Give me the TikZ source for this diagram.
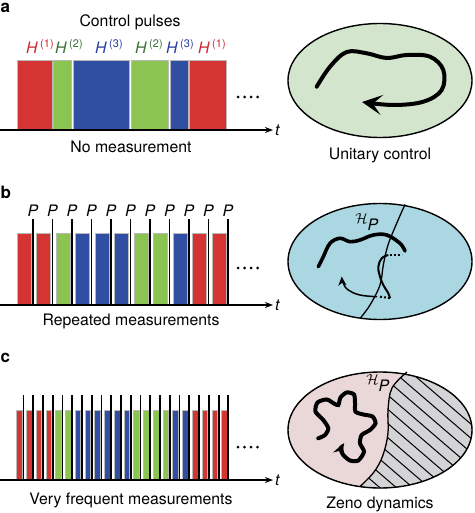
\documentclass[tikz,border=0pt]{standalone}
\usepackage{fontspec}
\setmainfont{TeX Gyre Heros}
\usepackage{xcolor}
\usetikzlibrary{arrows.meta}

\definecolor{pred}{RGB}{212,52,50}
\definecolor{pgreen}{RGB}{140,196,82}
\definecolor{pblue}{RGB}{48,78,162}
\definecolor{hred}{RGB}{205,38,48}
\definecolor{hgreen}{RGB}{58,112,52}
\definecolor{hblue}{RGB}{40,62,160}
\definecolor{fillA}{RGB}{212,229,206}
\definecolor{fillB}{RGB}{170,215,226}
\definecolor{fillC}{RGB}{234,215,216}
\definecolor{fillZ}{RGB}{212,212,214}

\newcommand{\hop}[2]{{\itshape H}\,\raisebox{6pt}{\fontsize{11}{12}\selectfont(#2)}}

\begin{document}
\begin{tikzpicture}[x=1pt, y=-1pt, font=\fontsize{15.8}{18}\selectfont, >={Stealth[length=8pt, width=6pt]},
  bar/.style={draw=gray!55, line width=0.8pt},
  meas/.style={line width=1.8pt, black},
  axis/.style={line width=1.4pt, ->},
  lbl/.style={font=\fontsize{17}{20}\selectfont\bfseries, anchor=base west, inner sep=0pt},
  captxt/.style={anchor=base, inner sep=0pt},
  hlab/.style={anchor=base west, inner sep=0pt},
  hilb/.style={draw=black, line width=1.4pt},
  traj/.style={line width=4pt, line cap=round},
  wall/.style={line width=1.3pt},
  dotseg/.style={line width=2pt, dash pattern=on 2pt off 2pt}]
\useasboundingbox (0,0) rectangle (474,513);

% panel labels
\node[lbl] (la) at (0.5,13) {a};
\node[lbl] (lb) at (0.5,198) {b};
\node[lbl] (lc) at (0.5,362) {c};

% ---- a: control pulses, no measurement
\node[captxt] (ctitle) at (130,26.5) {Control pulses};
\foreach \xa/\xb/\col in {17/52/pred, 53/71/pgreen, 73/129/pblue, 131/168/pgreen, 170/188/pblue, 189/226/pred}
  \draw[bar, fill=\col] (\xa,60) rectangle (\xb,130);
\node[hlab, text=hred] (h1) at (26,54) {\hop{H}{1}};
\node[hlab, text=hgreen] (h2) at (55,54) {\hop{H}{2}};
\node[hlab, text=hblue] (h3) at (95,54) {\hop{H}{3}};
\node[hlab, text=hgreen] (h4) at (135,54) {\hop{H}{2}};
\node[hlab, text=hblue] (h5) at (166,54) {\hop{H}{3}};
\node[hlab, text=hred] (h6) at (198,54) {\hop{H}{1}};
\coordinate (a0) at (0,130);
\coordinate (a1) at (273,130);
\draw[axis] (a0) -- (a1);
\node[anchor=west, inner sep=2pt] (ta) at (a1) {\itshape t};
\node[captxt] (capa) at (131,153) {No measurement};

% ---- b: repeated measurements
\foreach \col [count=\i from 0] in {pred,pred,pgreen,pblue,pblue,pblue,pgreen,pgreen,pblue,pred,pred} {
  \draw[bar, fill=\col] ({17+19.5*\i},233) rectangle ++(14,72);
  \draw[meas] ({33+19.5*\i},305) -- ++(0,-86) node[above, inner sep=1.5pt] (p\i) {\itshape P};
}
\coordinate (b0) at (0,305);
\coordinate (b1) at (273,305);
\draw[axis] (b0) -- (b1);
\node[anchor=west, inner sep=2pt] (tb) at (b1) {\itshape t};
\node[captxt] (capb) at (131,325) {Repeated measurements};

% ---- c: very frequent measurements
\foreach \col [count=\i from 0] in {pred,pred,pred,pred,pgreen,pgreen,pblue,pblue,pblue,pblue,pblue,pblue,pgreen,pgreen,pgreen,pgreen,pblue,pblue,pred,pred,pred,pred} {
  \draw[bar, fill=\col] ({16.7+9.76*\i},410) rectangle ++(5.6,70);
  \draw[meas] ({23.4+9.76*\i},480) -- ++(0,-85);
}
\coordinate (c0) at (0,480);
\coordinate (c1) at (273,480);
\draw[axis] (c0) -- (c1);
\node[anchor=west, inner sep=2pt] (tc) at (c1) {\itshape t};
\node[captxt] (capc) at (131,504) {Very frequent measurements};

% continuation dots
\foreach \yy in {97,268,447}
  \foreach \xx in {238,244.5,251,257.5}
    \fill (\xx,\yy) circle (1.5);

% ---- Hilbert space pictures
% a: unitary control
\draw[hilb, fill=fillA] (380,80.5) ellipse [x radius=92, y radius=57];
\draw[traj, -{Stealth[length=20pt, width=20pt, inset=9pt]}] plot[smooth, tension=0.6] coordinates {(316.7,86.7) (330,66.7) (346.7,52) (366.7,53.3) (386.7,58) (406.7,55) (430,56.7) (443.3,70) (441.7,90) (423.3,101.7) (393.3,105) (362,102)};
\node[captxt] (capua) at (380,160) {Unitary control};

% b: repeated measurements
\draw[hilb, fill=fillB] (380,261.5) ellipse [x radius=92, y radius=58];
\draw[wall] plot[smooth, tension=0.6] coordinates {(405,204.5) (396.7,223.3) (388,245) (383.3,265) (380,285) (370,305) (360,318.5)};
\node[inner sep=0pt] (hpb) at (367,222) {$\mathcal{H}_{\textit{P}}$};
\draw[traj, line width=3.6pt] plot[smooth, tension=0.6] coordinates {(318.3,266.7) (323.3,256.7) (330,243.3) (340,238.3) (350,241.7) (360,240) (373.3,235) (386.7,235) (400,243.3) (405,251)};
\draw[dotseg] (390,255) -- (402,255);
\draw[line width=2pt] plot[smooth, tension=0.6] coordinates {(388.3,255) (381.7,258.3) (378.3,266.7) (380,276.7) (383.3,285) (388.3,293.3) (390,298.3)};
\draw[dotseg] (380,296.7) -- (391.7,298.3);
\draw[line width=1.5pt, -{Stealth[length=9pt, width=8pt]}] plot[smooth, tension=0.7] coordinates {(377,296.7) (360,295) (348.3,290) (343.3,283.3) (341.7,276.5)};

% c: Zeno dynamics
\draw[fill=fillC] (380,430) ellipse [x radius=92, y radius=58];
\begin{scope}
  \clip (380,430) ellipse [x radius=92, y radius=58];
  \clip plot[smooth, tension=0.6] coordinates {(407,371) (392,388) (388,410) (388,433) (383,455) (374,472) (360,487)} -- (480,500) -- (480,360) -- cycle;
  \fill[fillZ] (280,360) rectangle (480,500);
  \foreach \k in {-12,...,12}
    \draw[line width=1pt] ({380+16.5*\k-100},345) -- ++(200,172);
\end{scope}
\draw[wall] plot[smooth, tension=0.6] coordinates {(407,372) (392,388) (388,410) (388,433) (383,455) (374,472) (360,486.5)};
\draw[hilb] (380,430) ellipse [x radius=92, y radius=58];
\node[inner sep=0pt] (hpc) at (378,383) {$\mathcal{H}_{\textit{P}}$};
\draw[traj, -{Stealth[length=11pt, width=12pt, inset=4pt]}] plot[smooth, tension=0.45] coordinates {(318.3,438.3) (325,435) (328.3,428.3) (323.3,420) (315.5,411.7) (317.5,402.5) (326.7,399.5) (334,403.5) (338.3,405) (340.5,397.5) (346.7,392.5) (354,394.5) (355,403.3) (355.5,411.7) (363.3,414.5) (372.5,416.5) (375.5,423.3) (370,430) (361.7,435) (360,443.3) (364,451.7) (358.3,460.5) (350,460.5) (343.3,455) (341,450) (342.5,444)};
\node[captxt] (capzc) at (380,508) {Zeno dynamics};
\end{tikzpicture}
\end{document}
